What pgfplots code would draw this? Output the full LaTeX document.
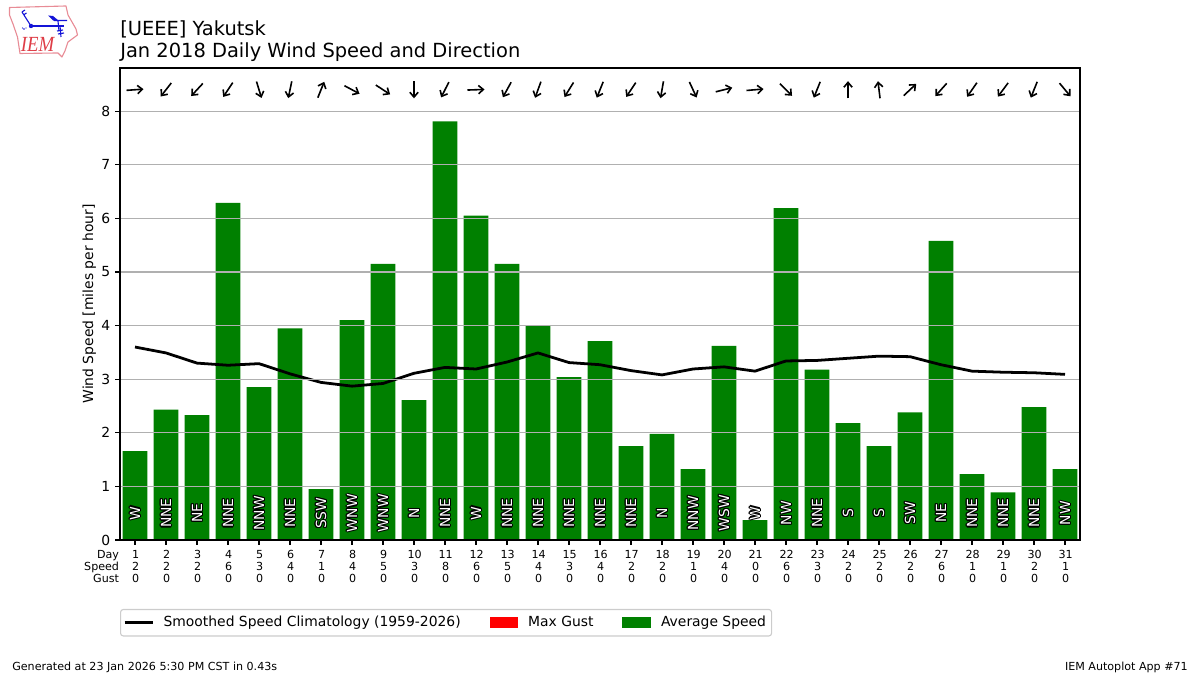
\documentclass[border=0pt]{standalone}
\usepackage{fontspec}
\setmainfont{DejaVu Sans}
\newfontfamily\logofont{Liberation Serif}
\usepackage{pgfplots}
\usepackage{pgfplotstable}
\pgfplotsset{compat=1.18}
\usetikzlibrary{arrows.meta}

\definecolor{bargreen}{RGB}{0,128,0}
\definecolor{gridgray}{RGB}{176,176,176}
\definecolor{legframe}{RGB}{204,204,204}
\definecolor{logored}{RGB}{222,60,70}
\definecolor{logopink}{RGB}{232,140,150}
\definecolor{logoblue}{RGB}{20,20,215}

% one white label with a black edge, as the path effect of the original
\newcommand{\olc}[3]{\rlap{\kern#1\raisebox{#2}{\textcolor{black}{#3}}}}
\newcommand{\ol}[1]{%
  \olc{.8pt}{0pt}{#1}\olc{-.8pt}{0pt}{#1}\olc{0pt}{.8pt}{#1}\olc{0pt}{-.8pt}{#1}%
  \olc{.6pt}{.6pt}{#1}\olc{-.6pt}{.6pt}{#1}\olc{.6pt}{-.6pt}{#1}\olc{-.6pt}{-.6pt}{#1}%
  \textcolor{white}{#1}}

% ang = direction the arrow points, degrees counter-clockwise from east
\pgfplotstableread{
day speed clim gust ang dir
1  1.66 3.60 0 4   W
2  2.43 3.49 0 232 NNE
3  2.33 3.30 0 227 NE
4  6.29 3.26 0 236 NNE
5  2.85 3.29 0 287 NNW
6  3.95 3.10 0 258 NNE
7  0.95 2.94 0 68  SSW
8  4.10 2.87 0 332 WNW
9  5.15 2.92 0 327 WNW
10 2.61 3.11 0 270 N
11 7.81 3.22 0 243 NNE
12 6.05 3.19 0 2   W
13 5.15 3.32 0 241 NNE
14 4.00 3.49 0 250 NNE
15 3.04 3.31 0 238 NNE
16 3.71 3.27 0 248 NNE
17 1.75 3.16 0 236 NNE
18 1.98 3.08 0 260 N
19 1.32 3.19 0 295 NNW
20 3.62 3.23 0 14  WSW
21 0.37 3.15 0 5   W
22 6.19 3.34 0 315 NW
23 3.18 3.35 0 248 NNE
24 2.18 3.39 0 90  S
25 1.75 3.43 0 97  S
26 2.38 3.42 0 43  SW
27 5.58 3.27 0 228 NE
28 1.23 3.15 0 235 NNE
29 0.89 3.13 0 233 NNE
30 2.48 3.12 0 248 NNE
31 1.32 3.09 0 310 NW
}\winddata

\begin{document}
\begin{tikzpicture}
  \useasboundingbox (0,0) rectangle (864pt,486pt);
  \begin{axis}[
    at={(86.4pt,97.2pt)}, anchor=south west,
    scale only axis, width=691.2pt, height=339.84pt,
    xmin=0.516, xmax=31.484,
    ymin=0, ymax=8.806,
    axis on top,
    axis line style={line width=0.8pt},
    every tick/.style={black, line width=0.8pt},
    tick align=outside, tick pos=left,
    major tick length=3.5pt,
    clip=false,
    ytick={0,1,...,8},
    ymajorgrids,
    y grid style={gridgray, line width=0.8pt},
    ylabel={Wind Speed [miles per hour]},
    ylabel style={font=\fontsize{10}{12}\selectfont, at={(axis description cs:-0.020,0.5)}, anchor=south},
    yticklabel style={font=\fontsize{10}{12}\selectfont, /pgf/number format/assume math mode=true},
    xtick={1,...,31},
    xticklabel style={font=\fontsize{8}{8.64}\selectfont, align=center, inner sep=0pt, yshift=-3.7pt, xshift=0.5pt},
    xticklabels={
      {1\\2\\0},{2\\2\\0},{3\\2\\0},{4\\6\\0},{5\\3\\0},{6\\4\\0},{7\\1\\0},{8\\4\\0},
      {9\\5\\0},{10\\3\\0},{11\\8\\0},{12\\6\\0},{13\\5\\0},{14\\4\\0},{15\\3\\0},{16\\4\\0},
      {17\\2\\0},{18\\2\\0},{19\\1\\0},{20\\4\\0},{21\\0\\0},{22\\6\\0},{23\\3\\0},{24\\2\\0},
      {25\\2\\0},{26\\2\\0},{27\\6\\0},{28\\1\\0},{29\\1\\0},{30\\2\\0},{31\\1\\0}},
    legend columns=3,
    legend style={
      at={(axis description cs:0,-0.146)}, anchor=north west,
      font=\fontsize{10}{12}\selectfont,
      draw=legframe, line width=0.8pt, rounded corners=2pt,
      inner xsep=2pt, inner ysep=3pt,
      /tikz/every odd column/.append style={column sep=5pt},
      /tikz/every even column/.append style={column sep=18.8pt},
    },
    legend cell align=left,
  ]
    % bars
    \addplot[ybar, bar width=0.8, bar shift=0pt, fill=red, draw=none, sharp corners, forget plot]
      table[x=day, y=gust] {\winddata};
    \addplot[ybar, bar width=0.8, bar shift=0pt, fill=bargreen, draw=none, sharp corners, forget plot]
      table[x=day, y=speed] {\winddata};

    % climatology
    \addplot[black, line width=2pt, line join=round, mark=none, forget plot]
      table[x=day, y=clim] {\winddata};

    % direction arrows along the top
    \addplot[black, line width=1.15pt, mark=none, forget plot,
      -{Straight Barb[length=3.5pt,width=6pt,line width=1.15pt]},
      quiver={
        u={0.55*cos(\thisrow{ang})},
        v={0.32*sin(\thisrow{ang})},
      }]
      table[x expr={\thisrow{day}-0.275*cos(\thisrow{ang})},
            y expr={8.4-0.16*sin(\thisrow{ang})}] {\winddata};

    % direction names inside the bars
    \addplot[draw=none, mark=none, forget plot,
      point meta=explicit symbolic,
      nodes near coords={\ol{\pgfplotspointmeta}},
      every node near coord/.append style={
        anchor=center, rotate=90, inner sep=0pt,
        font=\fontsize{10}{12}\selectfont},
      ]
      table[x=day, y expr=0.5, meta=dir] {\winddata};

    % legend
    \addlegendimage{legend image code/.code={\draw[black, line width=2pt, sharp corners] (0pt,0pt) -- (20pt,0pt);}}
    \addlegendentry{Smoothed Speed Climatology (1959-2026)}
    \addlegendimage{legend image code/.code={\fill[red, sharp corners] (0pt,-3.6pt) rectangle (20pt,3.6pt);}}
    \addlegendentry{Max Gust}
    \addlegendimage{legend image code/.code={\fill[bargreen, sharp corners] (0pt,-3.6pt) rectangle (20pt,3.6pt);}}
    \addlegendentry{Average Speed}

    % row names left of the tick labels
    \node[anchor=north east, align=right, inner sep=0pt, yshift=-7pt, xshift=-0.5pt,
          font=\fontsize{8}{8.64}\selectfont]
      at (axis description cs:0,0) {Day\\Speed\\Gust};
  \end{axis}

  % titles, footer and logo, positioned in reference pixels
  \begin{scope}[x=0.72pt, y=-0.72pt, shift={(0pt,486pt)}]
    \node[anchor=base west, inner sep=0pt, font=\fontsize{14}{16}\selectfont] at (120,35.5) {[UEEE] Yakutsk};
    \node[anchor=base west, inner sep=0pt, font=\fontsize{14}{16}\selectfont] at (120,57.5) {Jan 2018 Daily Wind Speed and Direction};
    \node[anchor=base west, inner sep=0pt, font=\fontsize{8}{10}\selectfont] at (12,671) {Generated at 23 Jan 2026 5:30 PM CST in 0.43s};
    \node[anchor=base east, inner sep=0pt, font=\fontsize{8}{10}\selectfont] at (1188,671) {IEM Autoplot App \#71};

    \draw[logopink, line width=0.8pt, line join=round]
      (9.5,7.5) -- (66,6) -- (68,15) -- (76,29) -- (77.5,35) -- (68,42) -- (65,51)
      -- (62,57) -- (58,53) -- (20,53.5) -- (17.5,37) -- (13,24) -- (9.5,15) -- cycle;
    \draw[logoblue, line width=1.1pt] (31,26) -- (64,26);
    \fill[logoblue] (31,26) circle (2.2);
    \draw[logoblue, line width=0.8pt] (31,26) -- (22,12) (22,12) -- (25,10) (23.5,15) -- (26.5,13);
    \fill[logoblue] (48,15.5) -- (53,16) -- (59,21) -- (53,20.5) -- cycle;
    \draw[logoblue, line width=0.8pt] (54,20.5) -- (67,20.5) (58,21) -- (59,31);
    \draw[logoblue, line width=0.8pt] (60,26) -- (61,37) (57,31) -- (63,30) (58,34) -- (64,33);
    \fill[logoblue] (24,29) circle (0.9) (22.5,28) circle (0.7) (26,28) circle (0.7);
    \node[text=logored, anchor=base, inner sep=0pt, yscale=1.15,
          font=\logofont\itshape\fontsize{13.5}{14}\selectfont] at (37.5,52) {IEM};
  \end{scope}
\end{tikzpicture}
\end{document}
